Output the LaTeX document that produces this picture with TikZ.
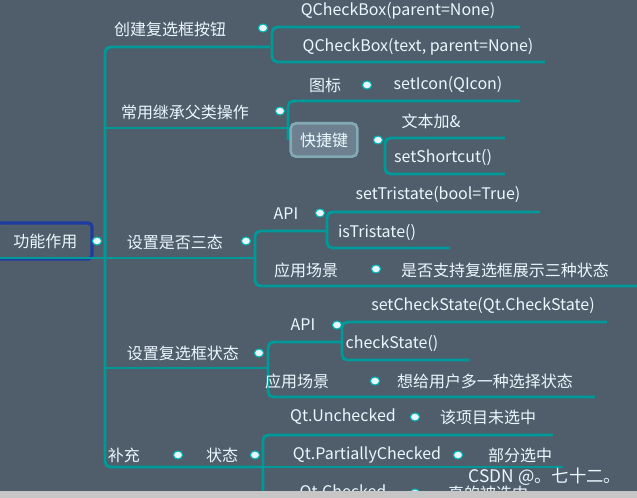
\documentclass[tikz,border=0pt]{standalone}
\usepackage{fontspec}
\usetikzlibrary{shapes.geometric}
\setmainfont{Noto Sans CJK SC}
\begin{document}
\begin{tikzpicture}[x=0.75pt,y=-0.75pt,
  every node/.style={text=white!92!cyan,font=\fontsize{12}{14}\selectfont,inner sep=1pt},
  ln/.style={draw=teal!80!cyan,line width=2.2pt,rounded corners=4pt},
  dot/.style={ellipse,fill=white!90!cyan,draw=teal!60!cyan,line width=0.8pt,minimum width=7pt,minimum height=6pt,inner sep=0pt}]
\fill[fill={rgb,255:red,80;green,93;blue,107}] (0,0) rectangle (637,498);
\fill[gray!45] (0,491) rectangle (637,498);
\begin{scope}
\clip (0,0) rectangle (637,491);
% root
\node[draw={rgb,255:red,30;green,60;blue,160},line width=2.5pt,rounded corners=3pt,minimum width=72pt,minimum height=27pt] (root) at (44,241) {\hspace{2pt}功能作用};
\node[dot] (d0) at (97,241) {};
% main trunk
\draw[ln] (105,258) -- (105,47) -- (270,47);
\draw[ln] (105,128) -- (287,128);
\draw[ln] (0,258) -- (255,258);
\draw[ln] (105,200) -- (105,467) -- (262,467);
\draw[ln] (105,368) -- (268,368);
% branch 1
\node (b1) at (170,29) {创建复选框按钮}; \node[dot] (d1) at (263,28) {};
\draw[ln] (520,27) -- (272,27) -- (272,62) -- (545,62);
\node (c11) at (398,11) {QCheckBox(parent=None)};
\node (c12) at (418,47) {QCheckBox(text, parent=None)};
% branch 2
\node (b2) at (185,112) {常用继承父类操作}; \node[dot] (d2) at (280,111) {};
\draw[ln] (520,101) -- (288,101) -- (288,140);
\node (c21) at (325,85) {图标}; \node[dot] at (367,85) {}; \node (c21a) at (448,85) {setIcon(QIcon)};
\node[fill={rgb,255:red,110;green,128;blue,144},draw={rgb,255:red,130;green,170;blue,180},line width=2pt,rounded corners=4pt,minimum width=50pt,minimum height=25pt] (c22) at (324,140) {快捷键};
\node[dot] at (378,140) {};
\draw[ln] (505,138) -- (385,138) -- (385,174) -- (505,174);
\node (c221) at (431,121) {文本加\&};
\node (c222) at (443,158) {setShortcut()};
% branch 3
\node (b3) at (175,242) {设置是否三态}; \node[dot] (d3) at (246,241) {};
\draw[ln] (255,258) -- (255,231) -- (327,231);
\draw[ln] (255,258) -- (255,286) -- (637,286);
\node (c31) at (286,214) {API}; \node[dot] at (320,213) {};
\draw[ln] (540,212) -- (327,212) -- (327,248) -- (450,248);
\node (c311) at (438,195) {setTristate(bool=True)};
\node (c312) at (377,233) {isTristate()};
\node (c32) at (306,270) {应用场景}; \node[dot] at (376,269) {};
\node (c32a) at (505,270) {是否支持复选框展示三种状态};
% branch 4
\node (b4) at (183,353) {设置复选框状态}; \node[dot] (d4) at (259,353) {};
\draw[ln] (268,368) -- (268,342) -- (342,342);
\draw[ln] (268,368) -- (268,397) -- (595,397);
\node (c41) at (303,325) {API}; \node[dot] at (337,325) {};
\draw[ln] (607,322) -- (342,322) -- (342,360) -- (470,360);
\node (c411) at (483,306) {setCheckState(Qt.CheckState)};
\node (c412) at (392,344) {checkState()};
\node (c42) at (297,381) {应用场景}; \node[dot] at (375,381) {};
\node (c42a) at (485,381) {想给用户多一种选择状态};
% branch 5
\node (b5) at (124,455) {补充}; \node[dot] at (178,455) {};
\node (b51) at (222,455) {状态}; \node[dot] at (255,455) {};
\draw[ln] (262,467) -- (563,467);
\draw[ln] (553,435) -- (263,435) -- (263,500);
\node (c51) at (343,417) {Qt.Unchecked}; \node[dot] at (415,417) {}; \node at (488,417) {该项目未选中};
\node (c52) at (367,455) {Qt.PartiallyChecked}; \node[dot] at (458,455) {}; \node at (520,455) {部分选中};
\node (c53) at (343,493) {Qt.Checked}; \node[dot] at (415,493) {}; \node at (488,493) {真的被选中};
\end{scope}
\node[font=\fontsize{13}{14}\selectfont] at (545,477) {CSDN @。七十二。};
\end{tikzpicture}
\end{document}
